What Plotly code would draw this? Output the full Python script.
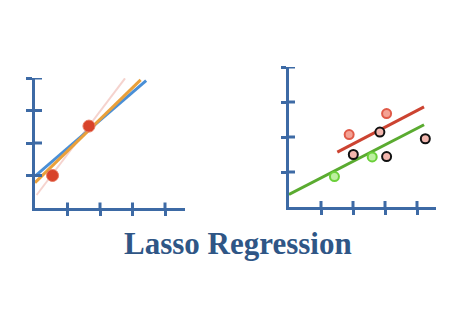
import plotly.graph_objects as go

W, H = 474, 315

# ---- data ----
left_ticks_x = [1, 2, 3, 4]
left_ticks_y = [1, 2, 3, 4]
left_pts_x = [0.54, 1.66]
left_pts_y = [1.0, 2.52]
blue_x = [0.0, 3.42]
blue_y = [0.98, 3.92]
orange_x = [0.0, 3.25]
orange_y = [0.78, 3.94]
pink_x = [0.05, 2.77]
pink_y = [0.40, 3.99]

right_ticks_x = [1, 2, 3, 4]
right_ticks_y = [1, 2, 3, 4]
red_pts_x = [1.88, 3.05]
red_pts_y = [2.07, 2.67]
black_pts_x = [2.84, 2.01, 3.05, 4.26]
black_pts_y = [2.14, 1.50, 1.44, 1.95]
green_pts_x = [2.60, 1.42]
green_pts_y = [1.43, 0.87]
red_line_x = [1.51, 4.22]
red_line_y = [1.57, 2.86]
green_line_x = [0.0, 4.22]
green_line_y = [0.36, 2.35]

title_text = "Lasso Regression"

AXIS_COLOR = "#3d6aa5"


def dom_x(a, b):
    return [a / W, b / W]


def dom_y(top, bottom):
    return [1 - bottom / H, 1 - top / H]


fig = go.Figure()

# left panel lines
fig.add_trace(go.Scatter(x=pink_x, y=pink_y, mode="lines",
                         line=dict(color="rgba(236,175,165,0.55)", width=2),
                         xaxis="x", yaxis="y", hoverinfo="skip"))
fig.add_trace(go.Scatter(x=blue_x, y=blue_y, mode="lines",
                         line=dict(color="#4a8fd6", width=3),
                         xaxis="x", yaxis="y"))
fig.add_trace(go.Scatter(x=orange_x, y=orange_y, mode="lines",
                         line=dict(color="#e9a03b", width=3),
                         xaxis="x", yaxis="y"))
fig.add_trace(go.Scatter(x=left_pts_x, y=left_pts_y, mode="markers",
                         marker=dict(size=12, color="#d8432a",
                                     line=dict(color="#e87a62", width=1)),
                         xaxis="x", yaxis="y"))

# right panel lines
fig.add_trace(go.Scatter(x=green_line_x, y=green_line_y, mode="lines",
                         line=dict(color="#5aab30", width=3),
                         xaxis="x2", yaxis="y2"))
fig.add_trace(go.Scatter(x=red_line_x, y=red_line_y, mode="lines",
                         line=dict(color="#cc4331", width=3),
                         xaxis="x2", yaxis="y2"))
fig.add_trace(go.Scatter(x=red_pts_x, y=red_pts_y, mode="markers",
                         marker=dict(size=9, color="#f4a294",
                                     line=dict(color="#e05a48", width=2)),
                         xaxis="x2", yaxis="y2"))
fig.add_trace(go.Scatter(x=green_pts_x, y=green_pts_y, mode="markers",
                         marker=dict(size=9, color="#bdf0a0",
                                     line=dict(color="#6bd03a", width=2)),
                         xaxis="x2", yaxis="y2"))
fig.add_trace(go.Scatter(x=black_pts_x, y=black_pts_y, mode="markers",
                         marker=dict(size=9, color="#f2b6ae",
                                     line=dict(color="#111111", width=2)),
                         xaxis="x2", yaxis="y2"))

axis_common = dict(showgrid=False, zeroline=False, showticklabels=False,
                   ticks="outside", tickcolor=AXIS_COLOR, tickwidth=3,
                   showline=True, linecolor=AXIS_COLOR, linewidth=3,
                   fixedrange=True)

fig.update_layout(
    width=W, height=H,
    margin=dict(l=0, r=0, t=0, b=0),
    paper_bgcolor="white", plot_bgcolor="rgba(0,0,0,0)",
    showlegend=False,
    xaxis=dict(domain=dom_x(35, 185), range=[0, 150 / 32.5], anchor="y",
               tickvals=left_ticks_x, ticklen=5, **axis_common),
    yaxis=dict(domain=dom_y(78, 208), range=[0, 4], anchor="x",
               tickvals=left_ticks_y, ticklen=6, **axis_common),
    xaxis2=dict(domain=dom_x(289, 436), range=[0, 147 / 32.0], anchor="y2",
                tickvals=right_ticks_x, ticklen=5, **axis_common),
    yaxis2=dict(domain=dom_y(67, 207), range=[0, 4], anchor="x2",
                tickvals=right_ticks_y, ticklen=5, **axis_common),
)

# inner halves of the crossing tick marks
shapes = []
for t in left_ticks_x:
    shapes.append(dict(type="line", xref="x", yref="y", x0=t, x1=t,
                       ysizemode="pixel", yanchor=0, y0=0, y1=5.5,
                       line=dict(color=AXIS_COLOR, width=3)))
for t in left_ticks_y:
    shapes.append(dict(type="line", xref="x", yref="y", y0=t, y1=t,
                       xsizemode="pixel", xanchor=0, x0=0, x1=7,
                       line=dict(color=AXIS_COLOR, width=3)))
for t in right_ticks_x:
    shapes.append(dict(type="line", xref="x2", yref="y2", x0=t, x1=t,
                       ysizemode="pixel", yanchor=0, y0=0, y1=6,
                       line=dict(color=AXIS_COLOR, width=3)))
for t in right_ticks_y:
    shapes.append(dict(type="line", xref="x2", yref="y2", y0=t, y1=t,
                       xsizemode="pixel", xanchor=0, x0=0, x1=6,
                       line=dict(color=AXIS_COLOR, width=3)))
fig.update_layout(shapes=shapes)

fig.add_annotation(text="<b>" + title_text + "</b>", xref="paper", yref="paper",
                   x=238 / W, y=1 - 243 / H, xanchor="center", yanchor="middle",
                   showarrow=False,
                   font=dict(family="Liberation Serif", size=31, color="#2f5686"))

fig.write_html("out.html")
